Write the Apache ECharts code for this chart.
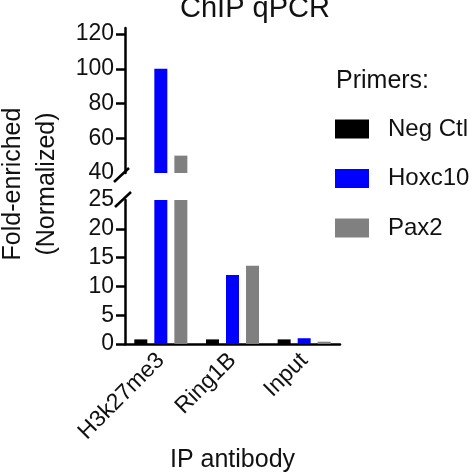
<!DOCTYPE html>
<html>
<head>
<meta charset="utf-8">
<script src="https://cdn.jsdelivr.net/npm/echarts@6/dist/echarts.min.js"></script>
<style>
html, body { margin: 0; background: #fff; }
#main { width: 474px; height: 474px; }
</style>
</head>
<body>
<div id="main"></div>
<script>
// ChIP qPCR, fold enrichment per IP antibody
var categories = ['H3k27me3', 'Ring1B', 'Input'];
var negCtl = [0.8, 0.8, 0.8];
var hoxc10 = [100, 12.0, 1.0];
var pax2 = [50, 13.6, 0.4];

// broken y axis: upper and lower part
var upperMin = 40, upperMax = 123.5;
var upperTicks = [60, 80, 100, 120];
var upperLabels = [40, 60, 80, 100, 120];
var lowerMin = 0, lowerMax = 25;
var lowerTicks = [0, 5, 10, 15, 20];
var lowerLabels = [0, 5, 10, 15, 20, 25];

var font = 'Liberation Sans, Arial, sans-serif';
var colors = ['#000000', '#0000ff', '#808080'];
var names = ['Neg Ctl', 'Hoxc10', 'Pax2'];
var seriesData = [negCtl, hoxc10, pax2];

var dom = document.getElementById('main');
var myChart = echarts.init(dom);

function yAxisOf(grid, min, max, ticks, labels) {
	return {
		type: 'value',
		gridIndex: grid,
		min: min,
		max: max,
		splitLine: { show: false },
		axisLine: { show: true, lineStyle: { color: '#000', width: 2.5 } },
		axisTick: { show: true, length: 9, lineStyle: { color: '#000', width: 2.5 }, customValues: ticks },
		axisLabel: { color: '#111', fontSize: 23, fontFamily: font, margin: 11, customValues: labels }
	};
}

var series = [];
seriesData.forEach(function (vals, i) {
	// upper part: only bars that reach the upper range
	series.push({
		name: names[i],
		type: 'bar',
		xAxisIndex: 0,
		yAxisIndex: 0,
		barWidth: 13,
		barGap: '54%',
		clip: true,
		itemStyle: { color: colors[i] },
		data: vals.map(function (v) { return v >= upperMin ? v : '-'; })
	});
	// lower part: clipped at lowerMax
	series.push({
		name: names[i],
		type: 'bar',
		xAxisIndex: 1,
		yAxisIndex: 1,
		barWidth: 13,
		barGap: '54%',
		clip: true,
		itemStyle: { color: colors[i] },
		data: vals
	});
});

var option = {
	animation: false,
	textStyle: { fontFamily: font },
	title: [
		{ text: 'ChIP qPCR', left: 175, top: -11, textStyle: { fontSize: 29, fontWeight: 'normal', color: '#111', fontFamily: font } },
		{ text: 'Primers:', left: 331, top: 64, textStyle: { fontSize: 25, fontWeight: 'normal', color: '#111', fontFamily: font } }
	],
	legend: {
		orient: 'vertical',
		left: 330,
		top: 112,
		itemWidth: 34,
		itemHeight: 19,
		itemGap: 25.5,
		icon: 'rect',
		data: names,
		textStyle: { fontSize: 24, color: '#111', fontFamily: font, padding: [0, 0, 0, 14] }
	},
	grid: [
		{ left: 125, right: 134, top: 28, height: 145 },
		{ left: 125, right: 134, top: 200, height: 146 }
	],
	xAxis: [
		{
			type: 'category', gridIndex: 0, data: categories,
			axisLine: { show: false }, axisTick: { show: false }, axisLabel: { show: false }
		},
		{
			type: 'category', gridIndex: 1, data: categories,
			name: 'IP antibody',
			nameLocation: 'middle',
			nameGap: 104,
			nameTextStyle: { fontSize: 25, color: '#111', fontFamily: font },
			axisLine: { lineStyle: { color: '#000', width: 2.5 } },
			axisTick: { alignWithLabel: true, length: 8, lineStyle: { color: '#000', width: 2.5 } },
			axisLabel: { rotate: 45, color: '#111', fontSize: 23, fontFamily: font, margin: 13 }
		}
	],
	yAxis: [
		yAxisOf(0, upperMin, upperMax, upperTicks, upperLabels),
		yAxisOf(1, lowerMin, lowerMax, lowerTicks, lowerLabels)
	],
	series: series
};

myChart.setOption(option, true);

// axis name and break marks
var axisX = 125;
var yUpper = myChart.convertToPixel({ yAxisIndex: 0 }, upperMin);
var yLower = myChart.convertToPixel({ yAxisIndex: 1 }, lowerMax);
var slash = { stroke: '#000', lineWidth: 2.5 };
myChart.setOption({
	graphic: [
		{
			type: 'text', x: 30, y: 184, rotation: Math.PI / 2,
			style: { text: 'Fold-enriched\n(Normalized)', font: '25px ' + font, fill: '#111', align: 'center', verticalAlign: 'middle', lineHeight: 34 }
		},
		{ type: 'line', shape: { x1: axisX - 11, y1: yUpper + 9, x2: axisX + 4, y2: yUpper - 5 }, style: slash },
		{ type: 'line', shape: { x1: axisX - 10, y1: yLower + 7, x2: axisX + 6, y2: yLower - 8 }, style: slash }
	]
});
</script>
</body>
</html>
